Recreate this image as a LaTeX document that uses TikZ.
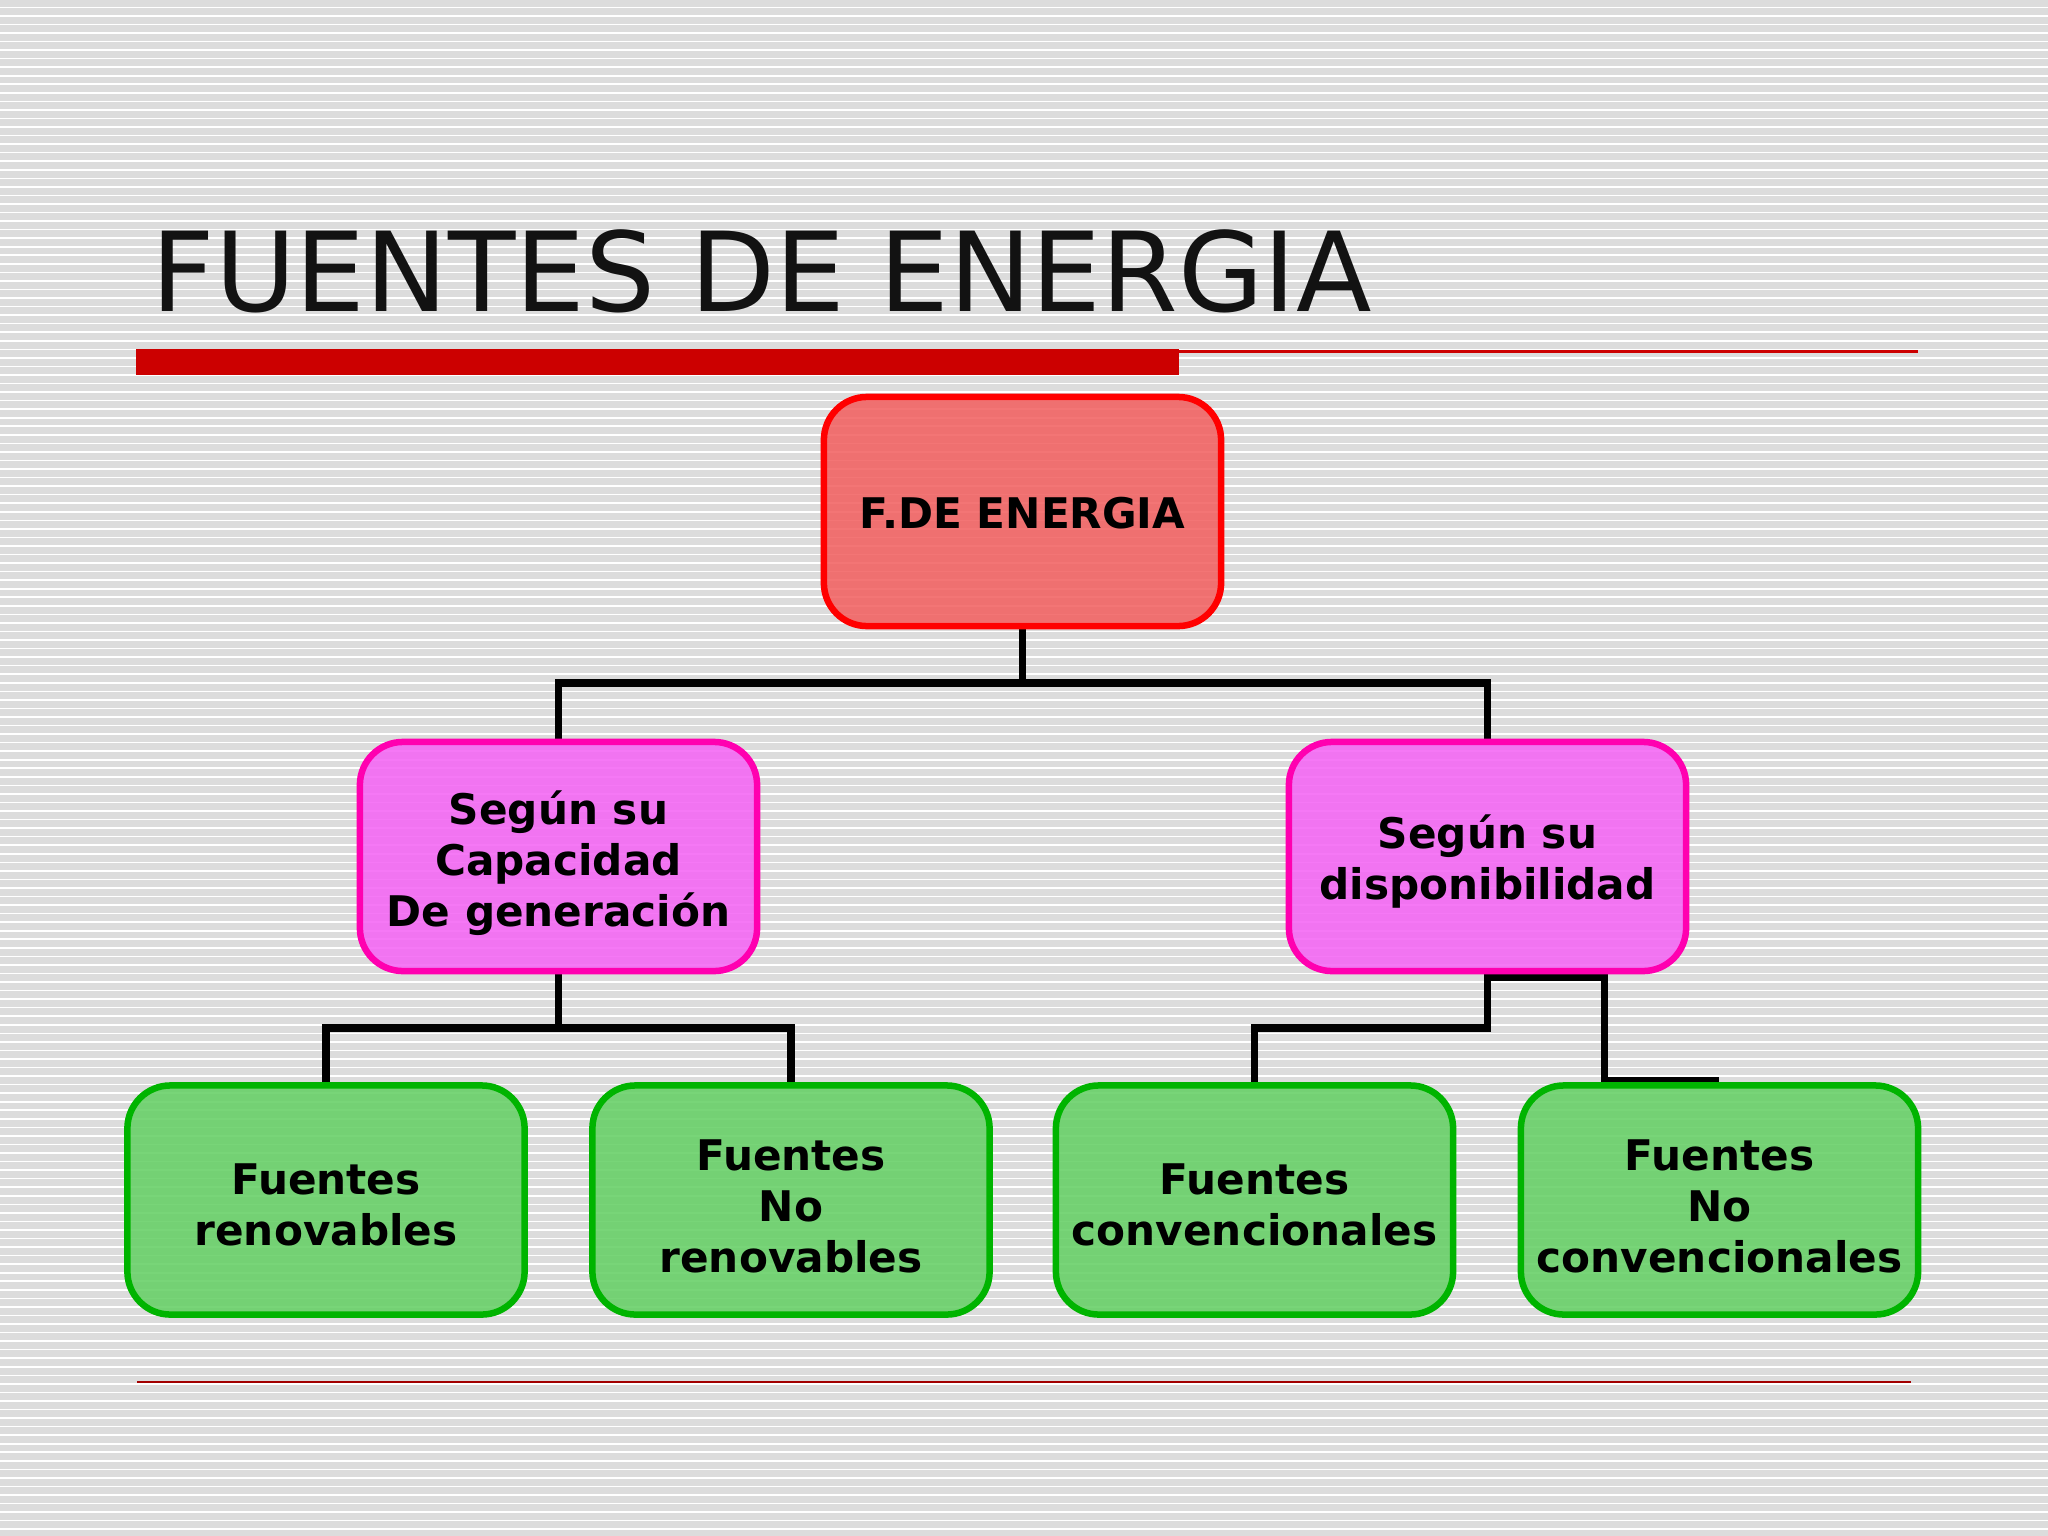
\documentclass[tikz,border=0pt]{standalone}
\usepackage{fontspec}
\setmainfont{DejaVu Sans}
\pgfdeclarelayer{bg}
\pgfdeclarelayer{lines}
\pgfsetlayers{bg,lines,main}
\definecolor{bggray}{HTML}{DCDCDC}
\definecolor{barred}{HTML}{CC0000}
\definecolor{redfill}{HTML}{F26262}
\definecolor{redline}{HTML}{FF0000}
\definecolor{pinkfill}{HTML}{F466F4}
\definecolor{pinkline}{HTML}{FF00B0}
\definecolor{greenfill}{HTML}{66D066}
\definecolor{greenline}{HTML}{00B400}
\tikzset{
  box/.style={rectangle, rounded corners=0.43cm, minimum width=3.97cm, minimum height=2.29cm,
    line width=1.85pt, inner sep=0pt, fill opacity=0.88},
  redbox/.style={box, draw=redline, fill=redfill},
  pinkbox/.style={box, draw=pinkline, fill=pinkfill},
  greenbox/.style={box, draw=greenline, fill=greenfill},
  boxtext/.style={align=center, inner sep=0pt, font=\fontsize{12pt}{14.5pt}\selectfont\bfseries},
  conn/.style={line width=2pt, black}
}
\begin{document}
\begin{tikzpicture}[x=0.01cm, y=-0.01cm]
\useasboundingbox (0,0) rectangle (2048,1536);
\begin{pgfonlayer}{bg}
  \fill[bggray] (0,0) rectangle (2048,1536);
  \foreach \i in {0,...,180} {
    \fill[white] (0,{7.3+8.55*\i-0.8}) rectangle (2048,{7.3+8.55*\i+0.8});
  }
  % title rule
  \fill[barred] (136,349) rectangle (1179,375);
  \fill[barred] (1179,350) rectangle (1918,352.5);
  % bottom rule
  \fill[barred!80!black] (137,1381.3) rectangle (1911,1382.8);
\end{pgfonlayer}

\node[anchor=base west, inner sep=0pt, font=\fontsize{31.36pt}{38pt}\selectfont, text=black!93] (title) at (151,311) {FUENTES DE ENERGIA};

\node[redbox] (top) at (1022.5,511.5) {};
\node[pinkbox] (p1) at (558.5,856.5) {};
\node[pinkbox] (p2) at (1487.5,856.5) {};
\node[greenbox] (g1) at (326,1200) {};
\node[greenbox] (g2) at (791,1200) {};
\node[greenbox] (g3) at (1254.5,1200) {};
\node[greenbox] (g4) at (1719.5,1200) {};

\node[boxtext] (topt) at ([yshift=-0.02cm]top.center) {F.DE ENERGIA};
\node[boxtext] (p1t) at ([yshift=-0.065cm]p1.center) {Según su\\Capacidad\\De generación};
\node[boxtext] (p2t) at ([yshift=-0.05cm]p2.center) {Según su\\disponibilidad};
\node[boxtext] (g1t) at ([yshift=-0.05cm]g1.center) {Fuentes\\renovables};
\node[boxtext] (g2t) at ([yshift=-0.065cm]g2.center) {Fuentes\\No\\renovables};
\node[boxtext] (g3t) at ([yshift=-0.05cm]g3.center) {Fuentes\\convencionales};
\node[boxtext] (g4t) at ([yshift=-0.065cm]g4.center) {Fuentes\\No\\convencionales};

\coordinate (h1) at (0,683);
\coordinate (h2) at (0,1028);
\coordinate (c1) at (1604,977);
\coordinate (c2) at (1604,1081);
\coordinate (c3) at (1719,1081);

\begin{pgfonlayer}{lines}
  \draw[conn] (top.south) -- (top.south |- h1) -| (p1.north);
  \draw[conn] (top.south |- h1) -| (p2.north);
  \draw[conn] (p1.south) -- (p1.south |- h2) -| (g1.north);
  \draw[conn] (p1.south |- h2) -| (g2.north);
  \draw[conn] (p2.south) -- (p2.south |- h2) -| (g3.north);
  \draw[conn] (p2.south) |- (c1) -- (c2) -- (c3);
\end{pgfonlayer}
\end{tikzpicture}
\end{document}
